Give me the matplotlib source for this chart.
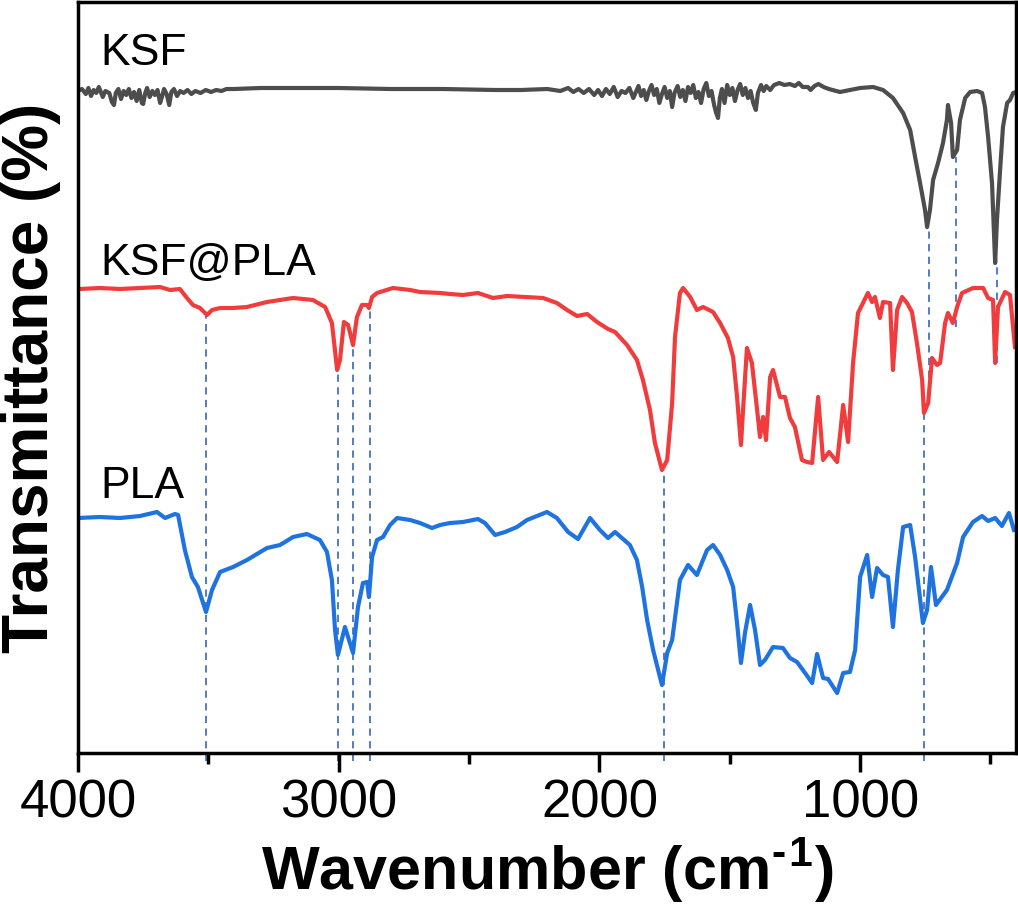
import numpy as np
import matplotlib
matplotlib.use('Agg')
import matplotlib.pyplot as plt
from matplotlib.ticker import MultipleLocator

plt.rcParams['font.family'] = ['Liberation Sans', 'DejaVu Sans']
plt.rcParams['mathtext.fontset'] = 'custom'
plt.rcParams['mathtext.rm'] = 'Liberation Sans'
plt.rcParams['mathtext.bf'] = 'Liberation Sans:bold'

# FTIR spectra, wavenumber (cm-1) and offset transmittance (a.u.)
ksf_wn = [4000, 3985, 3970, 3960, 3950, 3940, 3930, 3920, 3905, 3895, 3880, 3870, 3862, 3855,
          3845, 3835, 3825, 3815, 3805, 3795, 3785, 3775, 3765, 3755, 3750, 3742, 3735, 3725,
          3715, 3705, 3695, 3685, 3678, 3670, 3660, 3650, 3642, 3632, 3620, 3608, 3595, 3580,
          3565, 3550, 3530, 3510, 3490, 3470, 3450, 3430, 3400, 3300, 3200, 3000, 2800, 2600,
          2400, 2300, 2200, 2150, 2120, 2100, 2080, 2060, 2040, 2020, 2005, 1990, 1975, 1960,
          1945, 1930, 1915, 1900, 1885, 1870, 1860, 1850, 1840, 1830, 1820, 1810, 1800, 1790,
          1780, 1770, 1760, 1750, 1740, 1730, 1721, 1712, 1700, 1690, 1680, 1670, 1660, 1650,
          1640, 1630, 1620, 1610, 1600, 1590, 1580, 1570, 1560, 1552, 1545, 1538, 1530, 1520,
          1510, 1500, 1490, 1480, 1470, 1460, 1450, 1440, 1430, 1420, 1410, 1400, 1392, 1380,
          1370, 1360, 1345, 1330, 1310, 1290, 1270, 1250, 1235, 1220, 1200, 1190, 1175, 1160,
          1140, 1120, 1077, 1000, 950, 912, 874, 835, 808, 789, 770, 751, 743, 732, 720, 701,
          682, 667, 663, 651, 644, 628, 617, 597, 578, 551, 532, 521, 509, 494, 482, 475, 463,
          452, 436, 425, 413, 402]
ksf_t = [662, 664, 659, 665, 657, 663, 660, 666, 656, 662, 660, 651, 648, 660,
         664, 654, 662, 658, 664, 655, 661, 652, 663, 650, 649, 660, 665, 656,
         662, 658, 663, 650, 656, 664, 659, 648, 661, 664, 657, 662, 660, 663,
         659, 662, 660, 663, 661, 663, 662, 664, 664, 665, 665, 665, 664, 664,
         663, 663, 664, 662, 665, 661, 664, 660, 664, 658, 663, 657, 664, 659,
         666, 656, 662, 660, 665, 655, 661, 667, 657, 663, 653, 662, 668, 658,
         664, 650, 659, 666, 655, 662, 646, 660, 667, 656, 663, 652, 666, 660,
         668, 655, 661, 650, 664, 670, 657, 662, 648, 640, 635, 655, 664, 650,
         668, 658, 665, 652, 663, 669, 658, 665, 655, 662, 650, 643, 660, 668,
         662, 667, 663, 668, 670, 668, 669, 667, 670, 666, 666, 663, 667, 669,
         666, 664, 661, 665, 666, 663, 655, 640, 623, 596, 570, 543, 526, 543, 573, 590,
         610, 633, 648, 630, 596, 603, 633, 655, 661, 662, 660, 646, 616, 570, 490, 533, 583,
         626, 650, 653, 660, 661]

ksfpla_wn = [3992, 3916, 3839, 3762, 3685, 3647, 3609, 3582, 3559, 3532, 3505, 3486, 3455, 3405,
             3352, 3275, 3175, 3099, 3052, 3026, 3006, 2995, 2980, 2964, 2945, 2930, 2911, 2891,
             2884, 2872, 2853, 2792, 2726, 2688, 2611, 2573, 2523, 2466, 2408, 2354, 2216, 2163,
             2124, 2086, 2047, 2009, 1967, 1940, 1894, 1856, 1833, 1806, 1787, 1760, 1740, 1721,
             1710, 1691, 1679, 1652, 1626, 1602, 1564, 1537, 1507, 1487, 1472, 1457, 1449, 1434,
             1415, 1395, 1384, 1372, 1361, 1345, 1334, 1307, 1288, 1269, 1250, 1223, 1204, 1184,
             1161, 1142, 1119, 1088, 1065, 1046, 1027, 1008, 970, 954, 943, 924, 912, 885, 874,
             858, 839, 820, 801, 782, 762, 755, 739, 724, 705, 693, 674, 663, 644, 628, 609, 567,
             528, 509, 490, 482, 471, 444, 425, 406]
ksfpla_t = [464, 465, 464, 465, 466, 463, 464, 455, 448, 445, 438, 443, 445, 445,
            446, 451, 455, 453, 446, 430, 383, 393, 431, 428, 408, 436, 448, 448,
            445, 456, 460, 465, 463, 461, 460, 459, 458, 460, 455, 457, 455, 450,
            443, 437, 439, 431, 424, 421, 408, 393, 373, 343, 310, 283, 293, 350,
            416, 460, 465, 456, 443, 446, 441, 430, 415, 396, 356, 308, 343, 405,
            390, 343, 316, 336, 313, 376, 383, 356, 356, 335, 326, 293, 291, 290,
            356, 293, 301, 291, 348, 311, 390, 440, 460, 451, 456, 435, 451, 450, 383,
            443, 456, 450, 441, 410, 373, 340, 350, 395, 388, 390, 430, 440, 430, 446, 460, 465,
            465, 455, 453, 390, 446, 461, 458, 406]

pla_wn = [4000, 3916, 3839, 3762, 3697, 3666, 3628, 3616, 3590, 3563, 3540, 3509, 3486, 3455,
          3405, 3352, 3275, 3225, 3175, 3122, 3072, 3045, 3026, 3014, 3003, 2976, 2945, 2926,
          2907, 2891, 2884, 2872, 2853, 2830, 2803, 2776, 2726, 2688, 2642, 2611, 2573, 2523,
          2466, 2439, 2400, 2362, 2316, 2278, 2201, 2163, 2120, 2082, 2036, 1998, 1967, 1940,
          1883, 1856, 1836, 1817, 1794, 1760, 1740, 1721, 1691, 1660, 1626, 1587, 1564, 1537,
          1510, 1487, 1472, 1457, 1441, 1422, 1403, 1384, 1365, 1334, 1296, 1269, 1242, 1211,
          1184, 1165, 1142, 1123, 1088, 1065, 1039, 1019, 1000, 973, 954, 935, 912, 893, 874,
          855, 835, 808, 789, 759, 743, 728, 709, 667, 628, 605, 567, 532, 509, 482, 456, 429,
          410]
pla_t = [235, 236, 235, 237, 241, 235, 239, 238, 203, 176, 166, 141, 163, 181,
         186, 193, 205, 208, 216, 219, 213, 201, 173, 123, 98, 126, 100, 146,
         170, 171, 156, 196, 213, 216, 228, 235, 233, 230, 225, 228, 230, 231,
         234, 230, 218, 221, 226, 233, 241, 235, 221, 214, 235, 223, 215, 221,
         208, 193, 166, 133, 103, 68, 100, 113, 173, 188, 178, 203, 208, 198,
         183, 166, 130, 90, 121, 148, 123, 88, 93, 106, 105, 95, 91, 80,
         70, 99, 75, 74, 60, 80, 81, 103, 176, 198, 156, 185, 178, 176, 126,
         183, 226, 228, 196, 130, 143, 186, 148, 163, 190, 216, 231, 237, 232, 235, 227, 240,
         223]

# guide lines: peak wavenumber, lower and upper end
guide_wn = [3509, 3003, 2945, 2880, 1752, 753, 736, 634, 476]
guide_lo = [-8, -8, -8, -8, -8, -8, 350, 426, 390]
guide_hi = [438, 383, 408, 445, 283, 340, 526, 596, 490]

names = ['KSF', 'KSF@PLA', 'PLA']
name_y = [688, 478, 255]

fig = plt.figure(figsize=(10.18, 9.09), dpi=100)
ax = fig.add_axes([78/1018, 156/909, 938/1018, 751/909])

ax.vlines(guide_wn, guide_lo, guide_hi, colors='#4472c4', linestyles=(0, (4, 3)),
          linewidth=1.3, clip_on=False, zorder=1)

ax.plot(ksf_wn, ksf_t, color='#4d4d4d', lw=3.0, zorder=2)
ax.plot(ksfpla_wn, ksfpla_t, color='#f03c3c', lw=3.0, zorder=2)
ax.plot(pla_wn, pla_t, color='#1e73e0', lw=3.0, zorder=2)

for n, y in zip(names, name_y):
    ax.text(3916, y, n, fontsize=32, va='baseline', ha='left')

ax.set_xlim(4000, 402)
ax.set_ylim(0, 751)
ax.set_yticks([])
ax.xaxis.set_major_locator(MultipleLocator(1000))
ax.xaxis.set_minor_locator(MultipleLocator(500))
ax.tick_params(axis='x', which='major', length=14, width=2.5, labelsize=38, pad=4)
ax.tick_params(axis='x', which='minor', length=8, width=2.5)
for s in ax.spines.values():
    s.set_linewidth(2.5)

ax.set_xlabel('Wavenumber (cm$^{\\mathbf{\u2010\u200a1}}$)', fontsize=44, fontweight='bold')
ax.set_ylabel('Transmittance (%)', fontsize=46, fontweight='bold')
ax.xaxis.set_label_coords(0.5, -0.11)
ax.yaxis.set_label_coords(-0.018, 0.5)

fig.savefig('out.png', dpi=100)
